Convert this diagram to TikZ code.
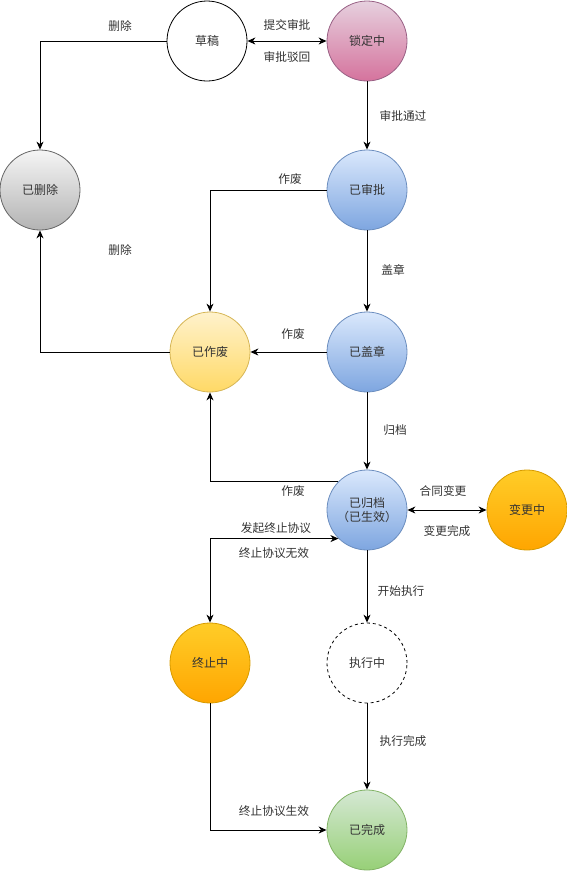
\documentclass[tikz,border=0pt]{standalone}
\usepackage{fontspec}
\setmainfont{Noto Sans CJK SC}
\usetikzlibrary{arrows.meta}
\definecolor{pinkT}{HTML}{E6D0DE}\definecolor{pinkB}{HTML}{D5739D}\definecolor{pinkS}{HTML}{996185}
\definecolor{blueT}{HTML}{DAE8FC}\definecolor{blueB}{HTML}{7EA6E0}\definecolor{blueS}{HTML}{6C8EBF}
\definecolor{grayT}{HTML}{F5F5F5}\definecolor{grayB}{HTML}{B3B3B3}\definecolor{grayS}{HTML}{666666}
\definecolor{yelT}{HTML}{FFF2CC}\definecolor{yelB}{HTML}{FFD966}\definecolor{yelS}{HTML}{D6B656}
\definecolor{orT}{HTML}{FFCD28}\definecolor{orB}{HTML}{FFA500}\definecolor{orS}{HTML}{D79B00}
\definecolor{grT}{HTML}{D5E8D4}\definecolor{grB}{HTML}{97D077}\definecolor{grS}{HTML}{82B366}
\definecolor{txt}{HTML}{333333}
\tikzset{
  st/.style={circle,minimum size=80pt,inner sep=0pt,draw,line width=0.8pt,font=\fontsize{12}{14}\selectfont,align=center,text=txt},
  grad/.style n args={3}{shading=axis,top color=#1,bottom color=#2,draw=#3},
  lbl/.style={font=\fontsize{11.7}{13}\selectfont,text=txt,inner sep=0pt},
  conn/.style={line width=0.9pt,-{Stealth[length=8pt,width=7pt,inset=2.5pt]}},
  conn2/.style={line width=0.9pt,{Stealth[length=8pt,width=7pt,inset=2.5pt]}-{Stealth[length=8pt,width=7pt,inset=2.5pt]}}
}
\begin{document}
\begin{tikzpicture}[x=1pt,y=-1pt]
\useasboundingbox (0,0) rectangle (567,871);
% states
\node[st,draw=black,fill=white] (cg) at (207,41) {草稿};
\node[st,grad={pinkT}{pinkB}{pinkS}] (sd) at (367,41) {锁定中};
\node[st,grad={grayT}{grayB}{grayS}] (ysc) at (40,190) {已删除};
\node[st,grad={blueT}{blueB}{blueS}] (ysp) at (367,190) {已审批};
\node[st,grad={yelT}{yelB}{yelS}] (yzf) at (210,352) {已作废};
\node[st,grad={blueT}{blueB}{blueS}] (ygz) at (367,352) {已盖章};
\node[st,grad={blueT}{blueB}{blueS}] (ygd) at (367,510) {已归档\\（已生效）};
\node[st,grad={orT}{orB}{orS}] (bgz) at (527,510) {变更中};
\node[st,grad={orT}{orB}{orS}] (zzz) at (210,663) {终止中};
\node[st,dashed,draw=black,fill=white] (zxz) at (367,663) {执行中};
\node[st,grad={grT}{grB}{grS}] (ywc) at (367,830) {已完成};
% connectors
\draw[conn] (cg.west) -| (ysc.north);
\draw[conn2] (cg.east) -- (sd.west);
\draw[conn] (sd.south) -- (ysp.north);
\draw[conn] (ysp.west) -| (yzf.north);
\draw[conn] (yzf.west) -| (ysc.south);
\draw[conn] (ysp.south) -- (ygz.north);
\draw[conn] (ygz.west) -- (yzf.east);
\draw[conn] (ygz.south) -- (ygd.north);
\draw[conn] (ygd.135) -| (yzf.south);
\draw[conn2] (ygd.east) -- (bgz.west);
\draw[conn2] (ygd.225) -| (zzz.north);
\draw[conn] (ygd.south) -- (zxz.north);
\draw[conn] (zxz.south) -- (ywc.north);
\draw[conn] (zzz.south) |- (ywc.west);
% labels
\node[lbl] (l1) at (120,26) {删除};
\node[lbl] (l2) at (287,25) {提交审批};
\node[lbl] (l3) at (287,57) {审批驳回};
\node[lbl] (l4) at (403,116) {审批通过};
\node[lbl] (l5) at (290,179) {作废};
\node[lbl] (l6) at (120,250) {删除};
\node[lbl] (l7) at (393,270) {盖章};
\node[lbl] (l8) at (293,334) {作废};
\node[lbl] (l9) at (395,430) {归档};
\node[lbl] (l10) at (293,491) {作废};
\node[lbl] (l11) at (443,491) {合同变更};
\node[lbl] (l12) at (447,531) {变更完成};
\node[lbl] (l13) at (276,528) {发起终止协议};
\node[lbl] (l14) at (274,553) {终止协议无效};
\node[lbl] (l15) at (401,591) {开始执行};
\node[lbl] (l16) at (403,741) {执行完成};
\node[lbl] (l17) at (274,811) {终止协议生效};
\end{tikzpicture}
\end{document}
